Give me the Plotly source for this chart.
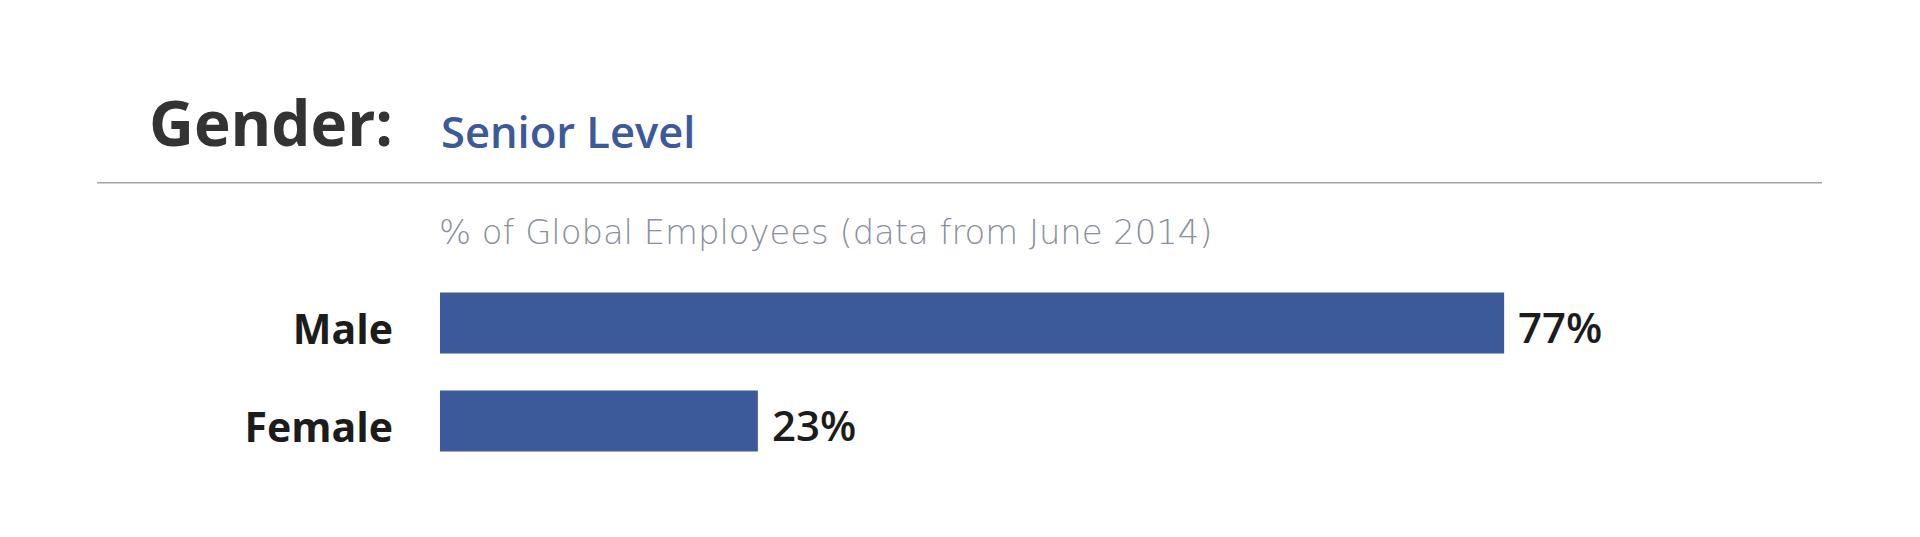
import plotly.graph_objects as go

# Data
categories = ["Female", "Male"]
values = [23, 77]
value_labels = ["23%", "77%"]
title_main = "Gender:"
title_sub = "Senior Level"
subtitle = "% of Global Employees (data from June 2014)"

# page body has an 8px margin; figure is placed at (8, 8)
OFF = 8
W, H = 1920 - 2 * OFF, 537 - 2 * OFF
ML, MR, MT, MB = 432, 90, 266, 59
PW = W - ML - MR
PH = H - MT - MB

BLUE = "#3c5a99"


def px_x(px):
    return (px - OFF - ML) / PW


def px_y(py):
    return (H - MB - (py - OFF)) / PH


fig = go.Figure()
fig.add_trace(go.Bar(
    x=values,
    y=categories,
    orientation="h",
    marker=dict(color=BLUE, line=dict(width=0)),
    width=0.622,
    hoverinfo="skip",
))

annotations = []
for cat, val, lab in zip(categories, values, value_labels):
    annotations.append(dict(
        x=val, y=cat, xref="x", yref="y", text=lab, showarrow=False,
        xanchor="left", yanchor="middle", xshift=12, yshift=-3,
        font=dict(family="Open Sans", size=42, color="#1c1c1c", weight=600),
    ))

annotations += [
    dict(x=px_x(395), y=px_y(122), xref="paper", yref="paper", text=title_main,
         showarrow=False, xanchor="right", yanchor="middle",
         font=dict(family="Open Sans", size=62, color="#333333", weight=700)),
    dict(x=px_x(439), y=px_y(131), xref="paper", yref="paper", text=title_sub,
         showarrow=False, xanchor="left", yanchor="middle",
         font=dict(family="Open Sans", size=43.5, color=BLUE, weight=600)),
    dict(x=px_x(437), y=px_y(232), xref="paper", yref="paper", text=subtitle,
         showarrow=False, xanchor="left", yanchor="middle",
         font=dict(family="DejaVu Sans", size=33.8, color="#8a8f9e", weight=200)),
]

fig.update_layout(
    width=W, height=H,
    margin=dict(l=ML, r=MR, t=MT, b=MB, pad=0),
    paper_bgcolor="white", plot_bgcolor="white",
    showlegend=False,
    annotations=annotations,
    shapes=[dict(type="line", xref="paper", yref="paper",
                 x0=px_x(97), x1=1, y0=px_y(182.7), y1=px_y(182.7),
                 line=dict(color="#a0a4ae", width=1.6))],
    xaxis=dict(range=[0, 100], visible=False, fixedrange=True),
    yaxis=dict(range=[-0.5, 1.5], categoryorder="array", categoryarray=categories,
               showgrid=False, zeroline=False, showline=False, ticks="",
               ticklabelstandoff=46, ticklabelshift=7,
               tickfont=dict(family="Open Sans", size=41, color="#1c1c1c", weight=700),
               fixedrange=True),
)

fig.write_html("out.html", config={"displayModeBar": False})
